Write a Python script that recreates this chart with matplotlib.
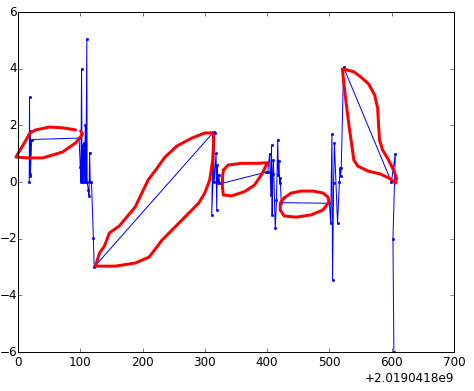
import matplotlib
matplotlib.use("Agg")
import matplotlib.pyplot as plt
from matplotlib.ticker import ScalarFormatter

plt.style.use("classic")

BASE = 2019041800.0

# time offsets (s) and values of the blue series
t = [18, 18.5, 19, 19.5, 20, 22,
     98, 100, 101, 102, 103, 104, 105, 106, 107, 108, 109, 110.5, 111, 113, 114,
     115, 116, 118, 121, 122.3,
     314.7, 316, 311, 313, 315, 318, 319, 320, 321, 322, 324, 327,
     398.7, 401, 404, 406, 407, 408, 409, 410, 413, 415, 417, 418, 419, 420, 421, 422.6,
     500, 502, 504, 505, 506.7, 508, 513, 516, 517, 518, 519, 522.7,
     599.5, 605.8, 602, 603.5]
v = [0.0, 3.0, 0.2, 1.8, 0.3, 1.5,
     1.55, 0.54, 0.0, 4.0, 0.0, 1.3, 0.0, 1.37, 0.0, 2.0, 0.0, 5.04, 0.0, -0.28, -0.48,
     1.03, 0.0, 0.0, -1.99, -3.0,
     1.78, 1.72, -1.16, 1.6, 0.01, 1.01, -0.99, 0.6, -0.05, 0.25, -0.02, -0.05,
     0.35, 0.36, 1.0, -0.46, 1.3, -1.16, 0.3, 0.78, -1.64, -0.64, 1.5, 0.25, 0.75, -0.05, 0.13, -0.73,
     -0.75, -1.46, 1.69, -3.46, -0.05, 1.37, -1.46, 0.0, 0.48, 0.2, 0.5, 4.05,
     0.0, 1.0, -2.0, -6.0]

# red hand-drawn loops (data units)
loop1_x = [92.5, 71.8, 51, 28.7, 19.1, 12.8, -3.2, 16, 39.9, 71.8, 92.5, 103.7, 100.5]
loop1_y = [1.84, 1.91, 1.94, 1.84, 1.73, 1.48, 0.88, 0.85, 0.85, 1.06, 1.38, 1.69, 1.80]

loop2_x = [312.6, 299.8, 279.1, 255.2, 236, 223.3, 208.9, 188.2, 162.7, 146.7, 138.8, 130.8,
           124.4, 156.3, 188.2, 210.5, 231.3, 255.2, 279.1, 290.3, 299.8, 307.8, 312.6, 314.2, 312.6]
loop2_y = [1.73, 1.73, 1.55, 1.27, 0.88, 0.49, 0.07, -0.88, -1.55, -1.80, -2.26, -2.51,
           -2.97, -2.97, -2.86, -2.65, -2.05, -1.52, -0.99, -0.74, -0.39, 0.07, 0.78, 1.48, 1.73]

loop3_x = [329.7, 337.6, 358.9, 385.5, 400.3, 398.7, 390.7, 379.6, 363.6, 342.9, 329.7, 328.1, 328.5, 329.7]
loop3_y = [0.42, 0.60, 0.66, 0.66, 0.68, 0.60, 0.25, -0.11, -0.34, -0.49, -0.46, -0.17, 0.19, 0.42]

loop4_x = [427.4, 438.6, 454.5, 473.7, 489.6, 497.6, 499.2, 489.6, 470.5, 446.6, 427.4, 421.1, 421.1, 427.4]
loop4_y = [-0.56, -0.39, -0.32, -0.32, -0.39, -0.53, -0.71, -0.99, -1.16, -1.24, -1.20, -0.99, -0.74, -0.56]

loop5_x = [521, 529, 539.1, 550.2, 563, 572.6, 577.4, 578.9, 580.5, 585.3, 594.9, 602.9, 607.7, 606.1,
           598.1, 582.1, 561.4, 545.5, 539.1, 537, 531.6, 526.3, 522.6, 521]
loop5_y = [3.98, 3.95, 3.89, 3.71, 3.46, 3.07, 2.61, 2.01, 1.48, 1.13, 0.78, 0.42, 0.14, -0.04,
           0.11, 0.28, 0.39, 0.56, 0.78, 1.13, 1.95, 2.89, 3.6, 3.98]

fig = plt.figure(figsize=(474 / 72, 391 / 72), dpi=72, facecolor="white")
ax = fig.add_axes([18 / 474, 39 / 391, 436 / 474, 340 / 391])

ax.plot([BASE + x for x in t], v, color="b", lw=1.0, marker="o", ms=2.5, mec="b")

for lx, ly in [(loop1_x, loop1_y), (loop2_x, loop2_y), (loop3_x, loop3_y),
               (loop4_x, loop4_y), (loop5_x, loop5_y)]:
    ax.plot([BASE + x for x in lx], ly, color="red", lw=3, clip_on=False,
            solid_joinstyle="round", solid_capstyle="round")

ax.set_xlim(BASE, BASE + 700)
ax.set_ylim(-6, 6)
ax.xaxis.set_major_formatter(ScalarFormatter(useOffset=BASE))
ax.set_xticks([BASE + k for k in range(0, 701, 100)])
ax.tick_params(axis="y", pad=1)

fig.savefig("out.png", dpi=72, facecolor="white")
